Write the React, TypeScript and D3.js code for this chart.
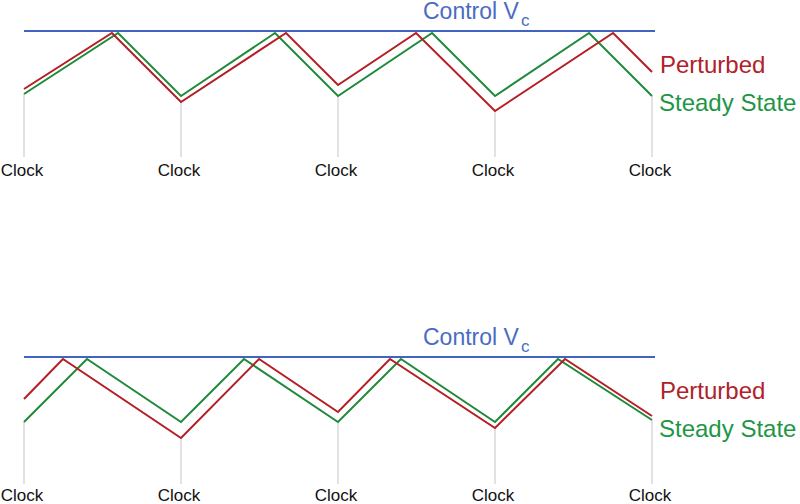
import React from "react";
import * as d3 from "d3";

// ---- data (time in clock periods, voltage relative to Vc = 1) ----
const clockTimes = [0, 1, 2, 3, 4];
const clockLabels = ["Clock", "Clock", "Clock", "Clock", "Clock"];
const controlLevel = 1.0;

const topPerturbed: [number, number][] = [
  [0, 0.42], [0.56, 0.98], [1, 0.29], [1.669, 0.98], [2, 0.46],
  [2.497, 0.98], [3, 0.2], [3.752, 0.98], [4, 0.59],
];
const topSteady: [number, number][] = [
  [0, 0.37], [0.599, 0.98], [1, 0.35], [1.599, 0.98], [2, 0.35],
  [2.599, 0.98], [3, 0.35], [3.599, 0.98], [4, 0.35],
];
const bottomPerturbed: [number, number][] = [
  [0, 0.58], [0.248, 0.98], [1, 0.19], [1.497, 0.98], [2, 0.45],
  [2.331, 0.98], [3, 0.29], [3.446, 0.98], [4, 0.41],
];
const bottomSteady: [number, number][] = [
  [0, 0.35], [0.401, 0.98], [1, 0.35], [1.401, 0.98], [2, 0.35],
  [2.401, 0.98], [3, 0.35], [3.401, 0.98], [4, 0.37],
];

const seriesNames = ["Perturbed", "Steady State"];
const controlName = "Control V";
const controlSub = "c";

const W = 800;
const H = 504;
const FONT = "'Liberation Sans', Arial, Helvetica, sans-serif";
const BLUE = "#4064c0";
const RED = "#b41e24";
const GREEN = "#1f8a3a";
const RED_TXT = "#b0222a";
const GREEN_TXT = "#1d9645";
const BLUE_TXT = "#4a6cc4";

const x = d3.scaleLinear().domain([0, 4]).range([24, 652]);

type PanelProps = {
  top: number; // pixel y of Vc
  perturbed: [number, number][];
  steady: [number, number][];
  clockBottom: number;
  labelBaseline: number;
};

function Panel({ top, perturbed, steady, clockBottom, labelBaseline }: PanelProps) {
  const y = d3.scaleLinear().domain([0, 1]).range([top + 100, top]);
  const line = d3
    .line<[number, number]>()
    .x((d) => x(d[0]))
    .y((d) => y(d[1]));
  const valAt = (s: [number, number][], t: number) =>
    (s.find((d) => Math.abs(d[0] - t) < 1e-6) || [t, 1])[1];
  return (
    <g>
      {clockTimes.map((t, i) => {
        const v = Math.min(valAt(perturbed, t), valAt(steady, t));
        return (
          <g key={i}>
            <line
              x1={x(t)}
              x2={x(t)}
              y1={y(v)}
              y2={clockBottom}
              stroke="#cfcfcf"
              strokeWidth={1.2}
            />
            <text
              x={x(t) - 2}
              y={labelBaseline}
              textAnchor="middle"
              fontFamily={FONT}
              fontSize={17}
              fill="#111"
            >
              {clockLabels[i]}
            </text>
          </g>
        );
      })}
      <line
        x1={x(0)}
        x2={x(4) + 3}
        y1={y(controlLevel)}
        y2={y(controlLevel)}
        stroke={BLUE}
        strokeWidth={2}
      />
      <path d={line(steady) || ""} fill="none" stroke={GREEN} strokeWidth={2} strokeLinejoin="miter" />
      <path d={line(perturbed) || ""} fill="none" stroke={RED} strokeWidth={2} strokeLinejoin="miter" />
      <text x={423} y={top - 12} fontFamily={FONT} fontSize={23} fill={BLUE_TXT}>
        {controlName}
        <tspan dx={2} dy={7} fontSize={17}>
          {controlSub}
        </tspan>
      </text>
      <text x={660} y={top + 42} fontFamily={FONT} fontSize={24} fill={RED_TXT}>
        {seriesNames[0]}
      </text>
      <text x={659} y={top + 80} fontFamily={FONT} fontSize={24} fill={GREEN_TXT}>
        {seriesNames[1]}
      </text>
    </g>
  );
}

export default function App() {
  return (
    <svg
      width={W}
      height={H}
      viewBox={`0 0 ${W} ${H}`}
      style={{ position: "absolute", left: 0, top: 0, background: "#fff" }}
    >
      <rect x={0} y={0} width={W} height={H} fill="#fff" />
      <Panel top={31} perturbed={topPerturbed} steady={topSteady} clockBottom={157} labelBaseline={176} />
      <Panel top={357} perturbed={bottomPerturbed} steady={bottomSteady} clockBottom={484} labelBaseline={501} />
    </svg>
  );
}
